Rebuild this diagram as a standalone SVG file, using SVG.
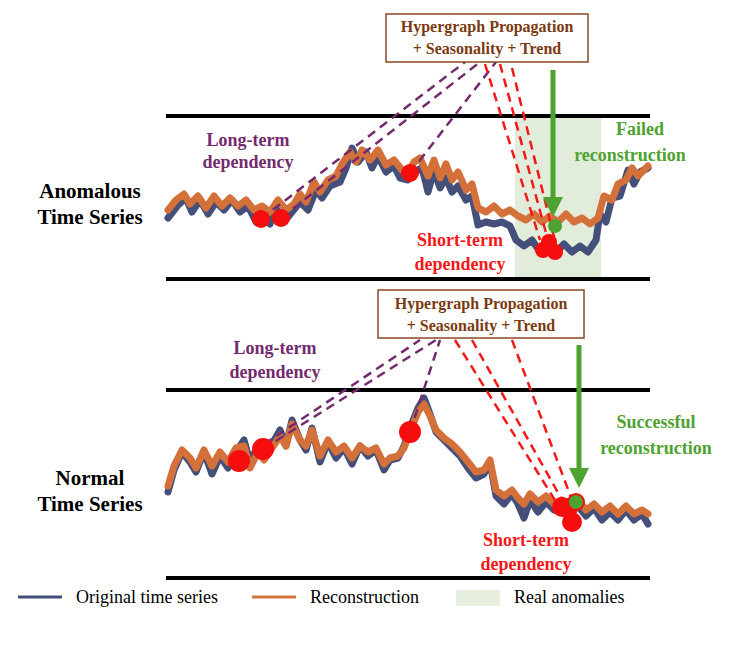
<svg xmlns="http://www.w3.org/2000/svg" width="738" height="651" viewBox="0 0 738 651">
<style>
.t{font-family:"Liberation Serif","Times New Roman",serif;font-weight:bold}
.ser{fill:none;stroke-linejoin:round;stroke-linecap:round}
.b{stroke:#45507a;stroke-width:7}
.o{stroke:#d4703a;stroke-width:7}
.pd{stroke:#742a6e;stroke-width:2.5;stroke-dasharray:9 6;fill:none}
.rd{stroke:#f41818;stroke-width:2.5;stroke-dasharray:9 6;fill:none}
.hl{stroke:#000;stroke-width:4}
.box{fill:#fff;stroke:#8a4a25;stroke-width:1.5}
.bt{fill:#7a3a12;font-size:16px}
.rc{fill:#f60d0d}
.gc{fill:#4ea22f}
</style>
<defs><marker id="ga" markerWidth="4" markerHeight="4" refX="2" refY="2" orient="auto" markerUnits="strokeWidth"><path d="M0,0L4,2L0,4Z" fill="#4ea22f"/></marker></defs>
<rect width="738" height="651" fill="#fff"/>
<rect x="515" y="117" width="86" height="161" fill="#dbe7d2" opacity="0.8"/>
<g id="lines">
<line class="hl" x1="166" y1="116" x2="650" y2="116"/>
<line class="hl" x1="166" y1="279" x2="650" y2="279"/>
<line class="hl" x1="166" y1="390" x2="650" y2="390"/>
<line class="hl" x1="166" y1="578" x2="650" y2="578"/>
</g>
<g id="series-top">
<polyline class="ser b" points="168,218 178,205 186,198 192,212 200,200 208,214 216,202 224,210 232,200 240,212 248,206 256,222 262,216 270,224 276,208 284,222 292,212 300,202 308,210 316,190 322,198 330,186 340,182 346,168 352,148 358,162 366,152 372,168 378,156 386,172 394,166 400,178 408,180 414,172 422,168 428,192 434,170 440,188 446,178 452,192 458,186 466,200 472,196 478,225 486,222 494,224 502,222 510,226 516,240 524,246 532,240 540,252 548,248 556,252 564,244 572,252 580,246 588,252 596,240 600,214 606,222 612,198 620,196 628,170 634,184 640,172 648,168"/>
<polyline class="ser o" points="168,210 176,200 184,194 190,204 198,196 206,208 214,196 222,206 230,198 238,206 246,200 254,210 262,206 270,212 278,200 286,210 294,204 300,194 306,202 314,182 320,192 328,180 336,176 342,164 350,152 356,162 362,150 370,160 378,150 386,165 394,160 402,170 408,172 414,162 420,158 428,176 434,160 440,178 446,164 452,180 458,172 466,190 472,184 478,208 486,212 494,206 502,214 510,210 518,216 526,220 534,214 542,222 550,216 558,222 566,214 574,222 582,218 590,224 598,218 604,196 612,200 618,184 626,180 632,168 638,176 648,166"/>
</g>
<g id="series-bottom">
<polyline class="ser b" points="168,492 174,470 182,452 190,462 196,472 204,452 212,474 220,456 228,468 236,452 244,440 250,462 258,448 264,456 272,444 280,430 286,446 292,420 300,440 306,450 312,428 320,462 328,442 336,458 344,448 352,464 360,446 368,456 376,450 384,470 390,460 398,458 404,446 410,428 418,408 424,398 430,414 436,432 444,440 452,448 460,456 468,468 476,478 484,474 490,462 496,496 504,504 512,494 518,504 524,518 530,500 538,512 546,502 554,510 562,504 570,510 578,506 586,516 594,508 602,520 610,512 618,520 626,510 634,520 642,514 648,524"/>
<polyline class="ser o" points="168,486 174,466 182,450 190,458 196,468 204,450 212,466 220,452 228,462 236,448 244,446 250,468 258,452 264,460 272,448 280,436 286,446 292,424 300,440 306,446 312,430 320,456 328,440 336,452 344,446 352,458 360,446 368,452 376,448 384,464 390,458 398,456 404,448 410,432 418,412 424,404 430,416 436,430 444,438 452,444 460,452 468,462 476,472 484,470 490,460 496,490 504,496 512,490 518,498 524,504 530,494 538,502 546,496 554,504 562,500 570,506 578,500 586,510 594,504 602,512 610,506 618,514 626,506 634,514 642,510 648,514"/>
</g>
<g id="connectors">
<line class="pd" x1="261" y1="219" x2="465" y2="62"/>
<line class="pd" x1="281" y1="218" x2="480" y2="62"/>
<line class="pd" x1="410" y1="173" x2="496" y2="62"/>
<line class="rd" x1="485" y1="64" x2="540" y2="240"/>
<line class="rd" x1="500" y1="64" x2="549" y2="244"/>
<line class="rd" x1="512" y1="68" x2="556" y2="245"/>
<line class="pd" x1="239" y1="461" x2="420" y2="340"/>
<line class="pd" x1="263" y1="449" x2="436" y2="340"/>
<line class="pd" x1="410" y1="432" x2="440" y2="340"/>
<line class="rd" x1="455" y1="340" x2="558" y2="505"/>
<line class="rd" x1="472" y1="340" x2="565" y2="505"/>
<line class="rd" x1="512" y1="340" x2="572" y2="500"/>
<line x1="553" y1="70" x2="553" y2="207" stroke="#4ea22f" stroke-width="5" marker-end="url(#ga)"/>
<line x1="579" y1="345" x2="579" y2="478" stroke="#4ea22f" stroke-width="5" marker-end="url(#ga)"/>
</g>
<g id="points">
<circle class="rc" cx="261" cy="219" r="9"/><circle class="rc" cx="281" cy="218" r="9"/>
<circle class="rc" cx="410" cy="173" r="9"/>
<circle class="rc" cx="543" cy="250" r="8"/><circle class="rc" cx="555" cy="252" r="8"/><circle class="rc" cx="549" cy="242" r="8"/>
<circle class="gc" cx="555" cy="226" r="7"/>
<circle class="rc" cx="239" cy="461" r="11"/><circle class="rc" cx="263" cy="449" r="11"/>
<circle class="rc" cx="410" cy="432" r="11"/>
<circle class="rc" cx="562" cy="507" r="10"/><circle class="rc" cx="572" cy="522" r="10"/><circle class="rc" cx="568" cy="508" r="10"/>
<circle cx="576" cy="502" r="8" fill="#4ea22f" stroke="#f60d0d" stroke-width="2"/>
</g>
<g id="box-top"><rect class="box" x="386" y="14" width="202" height="48"/>
<text class="t bt" x="487" y="32" text-anchor="middle">Hypergraph Propagation</text>
<text class="t bt" x="487" y="54" text-anchor="middle">+ Seasonality + Trend</text></g>
<g id="box-bottom"><rect class="box" x="378" y="290" width="206" height="48"/>
<text class="t bt" x="481" y="309" text-anchor="middle">Hypergraph Propagation</text>
<text class="t bt" x="481" y="331" text-anchor="middle">+ Seasonality + Trend</text></g>
<g id="labels" class="t" font-size="18">
<text x="248" y="146" fill="#742a6e" text-anchor="middle">Long-term</text>
<text x="248" y="168" fill="#742a6e" text-anchor="middle">dependency</text>
<text x="640" y="135" fill="#4ea22f" text-anchor="middle">Failed</text>
<text x="630" y="161" fill="#4ea22f" text-anchor="middle">reconstruction</text>
<text x="460" y="246" fill="#f41818" text-anchor="middle">Short-term</text>
<text x="460" y="270" fill="#f41818" text-anchor="middle">dependency</text>
<text x="275" y="354" fill="#742a6e" text-anchor="middle">Long-term</text>
<text x="275" y="378" fill="#742a6e" text-anchor="middle">dependency</text>
<text x="656" y="428" fill="#4ea22f" text-anchor="middle">Successful</text>
<text x="656" y="454" fill="#4ea22f" text-anchor="middle">reconstruction</text>
<text x="526" y="546" fill="#f41818" text-anchor="middle">Short-term</text>
<text x="526" y="570" fill="#f41818" text-anchor="middle">dependency</text>
<text x="90" y="198" font-size="21" text-anchor="middle">Anomalous</text>
<text x="90" y="224" font-size="21" text-anchor="middle">Time Series</text>
<text x="90" y="485" font-size="21" text-anchor="middle">Normal</text>
<text x="90" y="511" font-size="21" text-anchor="middle">Time Series</text>
</g>
<g id="legend" font-family="'Liberation Serif','Times New Roman',serif" font-size="18">
<line x1="18" y1="597" x2="62" y2="597" stroke="#45507a" stroke-width="3"/>
<text x="76" y="603">Original time series</text>
<line x1="252" y1="597" x2="296" y2="597" stroke="#d4703a" stroke-width="3"/>
<text x="310" y="603">Reconstruction</text>
<rect x="456" y="590" width="44" height="16" fill="#e6eedd"/>
<text x="514" y="603">Real anomalies</text>
</g>
</svg>
